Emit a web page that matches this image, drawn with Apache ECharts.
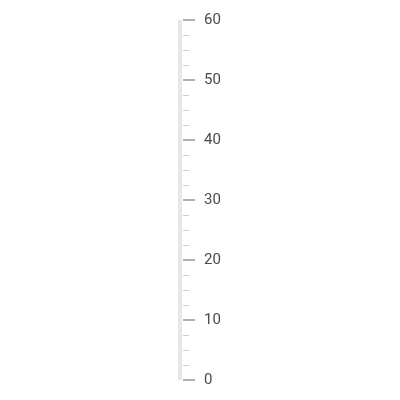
<!DOCTYPE html>
<html><head><meta charset="utf-8">
<script src="https://cdn.jsdelivr.net/npm/echarts@6/dist/echarts.min.js"></script>
<style>html,body{margin:0;padding:0;background:#fff}#c{width:400px;height:400px}</style>
</head><body><div id="c"></div>
<script>
const categories = ['value'];
const values = [0];
const axisMin = 0, axisMax = 60, axisInterval = 10;
const chart = echarts.init(document.getElementById('c'));
chart.setOption({
  animation:false,
  grid:{left:178,width:4,top:20,bottom:20},
  xAxis:{type:'category',data:categories,show:false},
  yAxis:{type:'value',position:'right',offset:1,min:axisMin,max:axisMax,interval:axisInterval,
    axisLine:{show:false},splitLine:{show:false},
    axisTick:{show:true,inside:false,length:12,lineStyle:{color:'#a9b3b8',width:2}},
    minorTick:{show:true,splitNumber:4,length:6,lineStyle:{color:'#c9ced2',width:1}},
    axisLabel:{margin:21,color:'#4a4a4a',fontSize:15,fontFamily:'Roboto'}},
  series:[{type:'bar',data:values,barWidth:'100%',showBackground:true,
    backgroundStyle:{color:'#e6e7e9'},itemStyle:{color:'#5b8ff9'}}]
});
</script></body></html>
